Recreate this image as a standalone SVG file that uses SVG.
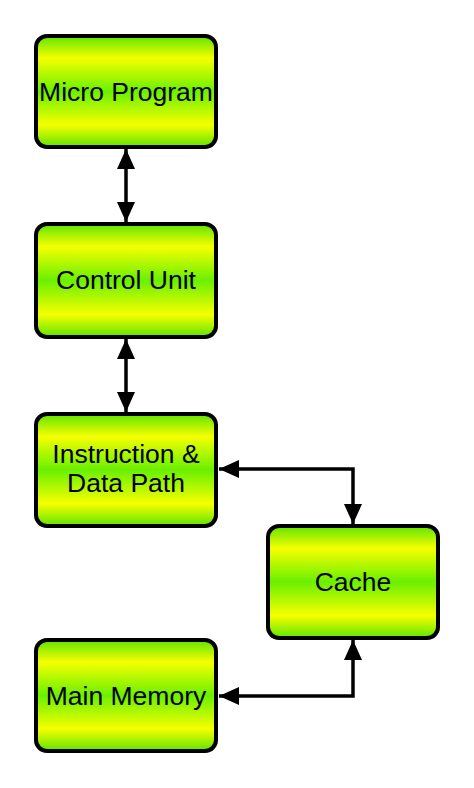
<svg xmlns="http://www.w3.org/2000/svg" width="474" height="788" viewBox="0 0 474 788">
<defs>
<linearGradient id="g" x1="0" y1="0" x2="0" y2="1">
<stop offset="0" stop-color="#5ee400"/>
<stop offset="0.2" stop-color="#f6ff00"/>
<stop offset="0.5" stop-color="#6af000"/>
<stop offset="0.8" stop-color="#f6ff00"/>
<stop offset="1" stop-color="#5ee400"/>
</linearGradient>
<marker id="ah" viewBox="0 0 20 18" refX="20" refY="9" markerWidth="20" markerHeight="18" markerUnits="userSpaceOnUse" orient="auto-start-reverse">
<path d="M0,0 L20,9 L0,18 Z" fill="#000"/>
</marker>
</defs>
<style>
.box{fill:url(#g);stroke:#000;stroke-width:4}
.lbl{font-family:"Liberation Sans",Arial,sans-serif;font-size:26.5px;fill:#000;text-anchor:middle}
.con{fill:none;stroke:#000;stroke-width:3.5;marker-start:url(#ah);marker-end:url(#ah)}
</style>
<rect width="474" height="788" fill="#fff"/>
<g id="connectors">
<path class="con" d="M126,149 L126,222"/>
<path class="con" d="M126,339 L126,412"/>
<path class="con" d="M219,469 L353,469 L353,524"/>
<path class="con" d="M219,696 L353,696 L353,640"/>
</g>
<g id="micro-program">
<rect class="box" x="36" y="36" width="180" height="111" rx="11"/>
<text class="lbl" x="126" y="101">Micro Program</text>
</g>
<g id="control-unit">
<rect class="box" x="36" y="224" width="180" height="113" rx="11"/>
<text class="lbl" x="126" y="289">Control Unit</text>
</g>
<g id="instruction-data-path">
<rect class="box" x="36" y="414" width="180" height="112" rx="11"/>
<text class="lbl" x="126" y="463">Instruction &amp;</text>
<text class="lbl" x="126" y="492">Data Path</text>
</g>
<g id="cache">
<rect class="box" x="268" y="526" width="170" height="112" rx="11"/>
<text class="lbl" x="353" y="591">Cache</text>
</g>
<g id="main-memory">
<rect class="box" x="36" y="640" width="180" height="111" rx="11"/>
<text class="lbl" x="126" y="705">Main Memory</text>
</g>
</svg>
